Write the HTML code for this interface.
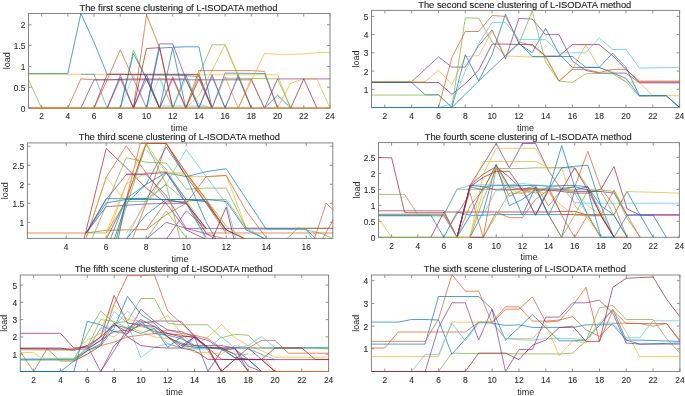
<!DOCTYPE html><html><head><meta charset="utf-8"><style>html,body{margin:0;padding:0;background:#fff;overflow:hidden}svg{display:block}text{font-family:"Liberation Sans",Arial,sans-serif;fill:#2a2a2a}</style></head><body>
<svg width="685" height="396" viewBox="0 0 685 396">
<rect width="685" height="396" fill="#fff"/>
<rect x="28.5" y="13.5" width="301.5" height="94.6" fill="none" stroke="#858585" stroke-width="1"/>
<line x1="41.61" y1="108.1" x2="41.61" y2="105.1" stroke="#858585" stroke-width="0.9"/>
<line x1="41.61" y1="13.5" x2="41.61" y2="16.5" stroke="#858585" stroke-width="0.9"/>
<text x="41.61" y="119.30" font-size="8.4" stroke="#2a2a2a" stroke-width="0.08" text-anchor="middle">2</text>
<line x1="67.83" y1="108.1" x2="67.83" y2="105.1" stroke="#858585" stroke-width="0.9"/>
<line x1="67.83" y1="13.5" x2="67.83" y2="16.5" stroke="#858585" stroke-width="0.9"/>
<text x="67.83" y="119.30" font-size="8.4" stroke="#2a2a2a" stroke-width="0.08" text-anchor="middle">4</text>
<line x1="94.04" y1="108.1" x2="94.04" y2="105.1" stroke="#858585" stroke-width="0.9"/>
<line x1="94.04" y1="13.5" x2="94.04" y2="16.5" stroke="#858585" stroke-width="0.9"/>
<text x="94.04" y="119.30" font-size="8.4" stroke="#2a2a2a" stroke-width="0.08" text-anchor="middle">6</text>
<line x1="120.26" y1="108.1" x2="120.26" y2="105.1" stroke="#858585" stroke-width="0.9"/>
<line x1="120.26" y1="13.5" x2="120.26" y2="16.5" stroke="#858585" stroke-width="0.9"/>
<text x="120.26" y="119.30" font-size="8.4" stroke="#2a2a2a" stroke-width="0.08" text-anchor="middle">8</text>
<line x1="146.48" y1="108.1" x2="146.48" y2="105.1" stroke="#858585" stroke-width="0.9"/>
<line x1="146.48" y1="13.5" x2="146.48" y2="16.5" stroke="#858585" stroke-width="0.9"/>
<text x="146.48" y="119.30" font-size="8.4" stroke="#2a2a2a" stroke-width="0.08" text-anchor="middle">10</text>
<line x1="172.70" y1="108.1" x2="172.70" y2="105.1" stroke="#858585" stroke-width="0.9"/>
<line x1="172.70" y1="13.5" x2="172.70" y2="16.5" stroke="#858585" stroke-width="0.9"/>
<text x="172.70" y="119.30" font-size="8.4" stroke="#2a2a2a" stroke-width="0.08" text-anchor="middle">12</text>
<line x1="198.91" y1="108.1" x2="198.91" y2="105.1" stroke="#858585" stroke-width="0.9"/>
<line x1="198.91" y1="13.5" x2="198.91" y2="16.5" stroke="#858585" stroke-width="0.9"/>
<text x="198.91" y="119.30" font-size="8.4" stroke="#2a2a2a" stroke-width="0.08" text-anchor="middle">14</text>
<line x1="225.13" y1="108.1" x2="225.13" y2="105.1" stroke="#858585" stroke-width="0.9"/>
<line x1="225.13" y1="13.5" x2="225.13" y2="16.5" stroke="#858585" stroke-width="0.9"/>
<text x="225.13" y="119.30" font-size="8.4" stroke="#2a2a2a" stroke-width="0.08" text-anchor="middle">16</text>
<line x1="251.35" y1="108.1" x2="251.35" y2="105.1" stroke="#858585" stroke-width="0.9"/>
<line x1="251.35" y1="13.5" x2="251.35" y2="16.5" stroke="#858585" stroke-width="0.9"/>
<text x="251.35" y="119.30" font-size="8.4" stroke="#2a2a2a" stroke-width="0.08" text-anchor="middle">18</text>
<line x1="277.57" y1="108.1" x2="277.57" y2="105.1" stroke="#858585" stroke-width="0.9"/>
<line x1="277.57" y1="13.5" x2="277.57" y2="16.5" stroke="#858585" stroke-width="0.9"/>
<text x="277.57" y="119.30" font-size="8.4" stroke="#2a2a2a" stroke-width="0.08" text-anchor="middle">20</text>
<line x1="303.78" y1="108.1" x2="303.78" y2="105.1" stroke="#858585" stroke-width="0.9"/>
<line x1="303.78" y1="13.5" x2="303.78" y2="16.5" stroke="#858585" stroke-width="0.9"/>
<text x="303.78" y="119.30" font-size="8.4" stroke="#2a2a2a" stroke-width="0.08" text-anchor="middle">22</text>
<line x1="330.00" y1="108.1" x2="330.00" y2="105.1" stroke="#858585" stroke-width="0.9"/>
<line x1="330.00" y1="13.5" x2="330.00" y2="16.5" stroke="#858585" stroke-width="0.9"/>
<text x="330.00" y="119.30" font-size="8.4" stroke="#2a2a2a" stroke-width="0.08" text-anchor="middle">24</text>
<line x1="28.5" y1="108.10" x2="31.5" y2="108.10" stroke="#858585" stroke-width="0.9"/>
<line x1="330" y1="108.10" x2="327.0" y2="108.10" stroke="#858585" stroke-width="0.9"/>
<text x="25.30" y="111.60" font-size="8.4" stroke="#2a2a2a" stroke-width="0.08" text-anchor="end">0</text>
<line x1="28.5" y1="87.26" x2="31.5" y2="87.26" stroke="#858585" stroke-width="0.9"/>
<line x1="330" y1="87.26" x2="327.0" y2="87.26" stroke="#858585" stroke-width="0.9"/>
<text x="25.30" y="90.76" font-size="8.4" stroke="#2a2a2a" stroke-width="0.08" text-anchor="end">0.5</text>
<line x1="28.5" y1="66.43" x2="31.5" y2="66.43" stroke="#858585" stroke-width="0.9"/>
<line x1="330" y1="66.43" x2="327.0" y2="66.43" stroke="#858585" stroke-width="0.9"/>
<text x="25.30" y="69.93" font-size="8.4" stroke="#2a2a2a" stroke-width="0.08" text-anchor="end">1</text>
<line x1="28.5" y1="45.59" x2="31.5" y2="45.59" stroke="#858585" stroke-width="0.9"/>
<line x1="330" y1="45.59" x2="327.0" y2="45.59" stroke="#858585" stroke-width="0.9"/>
<text x="25.30" y="49.09" font-size="8.4" stroke="#2a2a2a" stroke-width="0.08" text-anchor="end">1.5</text>
<line x1="28.5" y1="24.75" x2="31.5" y2="24.75" stroke="#858585" stroke-width="0.9"/>
<line x1="330" y1="24.75" x2="327.0" y2="24.75" stroke="#858585" stroke-width="0.9"/>
<text x="25.30" y="28.25" font-size="8.4" stroke="#2a2a2a" stroke-width="0.08" text-anchor="end">2</text>
<svg x="27.9" y="12.9" width="302.7" height="95.8" overflow="hidden" viewBox="27.9 12.9 302.7 95.8">
<polyline points="28.5,73.5 67.8,73.5 80.9,13.5 94.0,42.3 107.2,74.3 120.3,74.3 133.4,74.8 146.5,74.8 159.6,75.2 172.7,75.2 185.8,75.6 198.9,76.4 212.0,108.1 225.1,73.1 264.5,73.5 277.6,108.1" fill="none" stroke="#0072BD" stroke-width="0.8" stroke-opacity="0.85"/>
<polyline points="28.5,74.3 185.8,74.3 198.9,74.8 277.6,74.8 290.7,108.1" fill="none" stroke="#EDB120" stroke-width="0.8" stroke-opacity="0.85"/>
<polyline points="28.5,79.8 41.6,108.1 120.3,108.1 133.4,50.2 146.5,78.9 159.6,108.1" fill="none" stroke="#77AC30" stroke-width="0.8" stroke-opacity="0.85"/>
<polyline points="28.5,108.1 67.8,108.1 80.9,78.9 94.0,79.8 107.2,79.8 120.3,79.3 133.4,78.9 146.5,78.9 159.6,78.9 172.7,78.9 185.8,78.9 198.9,108.1" fill="none" stroke="#D95319" stroke-width="0.8" stroke-opacity="0.85"/>
<polyline points="80.9,108.1 94.0,79.8 251.3,79.8 264.5,108.1" fill="none" stroke="#7E2F8E" stroke-width="0.8" stroke-opacity="0.85"/>
<polyline points="80.9,74.3 94.0,74.3 107.2,108.1 120.3,74.8 133.4,108.1 146.5,74.8 159.6,108.1" fill="none" stroke="#0072BD" stroke-width="0.8" stroke-opacity="0.6"/>
<polyline points="94.0,108.1 107.2,74.3 198.9,74.3 212.0,108.1" fill="none" stroke="#A2142F" stroke-width="0.8" stroke-opacity="0.85"/>
<polyline points="94.0,108.1 107.2,79.8 120.3,49.8 133.4,78.9 146.5,108.1" fill="none" stroke="#D95319" stroke-width="0.8" stroke-opacity="0.85"/>
<polyline points="120.3,108.1 133.4,53.5 146.5,78.9 159.6,108.1" fill="none" stroke="#0072BD" stroke-width="0.8" stroke-opacity="0.85"/>
<polyline points="133.4,108.1 146.5,14.8 159.6,47.7 172.7,108.1" fill="none" stroke="#D95319" stroke-width="0.8" stroke-opacity="0.85"/>
<polyline points="133.4,108.1 146.5,48.5 159.6,47.7 172.7,108.1" fill="none" stroke="#A2142F" stroke-width="0.8" stroke-opacity="0.85"/>
<polyline points="146.5,108.1 159.6,43.9 172.7,43.9 185.8,78.9 198.9,108.1" fill="none" stroke="#7E2F8E" stroke-width="0.8" stroke-opacity="0.85"/>
<polyline points="146.5,108.1 159.6,48.1 172.7,47.3 185.8,46.8 198.9,46.8 212.0,108.1" fill="none" stroke="#0072BD" stroke-width="0.8" stroke-opacity="0.85"/>
<polyline points="159.6,108.1 172.7,48.1 185.8,108.1" fill="none" stroke="#0072BD" stroke-width="0.8" stroke-opacity="0.85"/>
<polyline points="185.8,108.1 198.9,74.8 212.0,44.8 225.1,44.8 238.2,76.4 251.3,108.1" fill="none" stroke="#77AC30" stroke-width="0.8" stroke-opacity="0.85"/>
<polyline points="185.8,108.1 198.9,95.6 212.0,70.6 225.1,44.8 238.2,74.8 251.3,108.1" fill="none" stroke="#EDB120" stroke-width="0.8" stroke-opacity="0.85"/>
<polyline points="185.8,108.1 198.9,70.6 251.3,70.6 264.5,71.4 277.6,108.1" fill="none" stroke="#D95319" stroke-width="0.8" stroke-opacity="0.85"/>
<polyline points="238.2,108.1 251.3,81.0 264.5,53.5 277.6,54.3 290.7,54.3 303.8,53.9 316.9,52.7 330.0,52.3" fill="none" stroke="#EDB120" stroke-width="0.8" stroke-opacity="0.85"/>
<polyline points="225.1,78.1 277.6,78.9 290.7,108.1" fill="none" stroke="#77AC30" stroke-width="0.8" stroke-opacity="0.85"/>
<polyline points="264.5,108.1 277.6,78.9 330.0,78.9" fill="none" stroke="#7E2F8E" stroke-width="0.8" stroke-opacity="0.85"/>
<polyline points="264.5,108.1 277.6,95.2 290.7,108.1" fill="none" stroke="#0072BD" stroke-width="0.8" stroke-opacity="0.85"/>
<polyline points="277.6,108.1 290.7,83.1 303.8,78.9 316.9,78.9 330.0,108.1" fill="none" stroke="#EDB120" stroke-width="0.8" stroke-opacity="0.85"/>
<polyline points="290.7,108.1 303.8,78.9 316.9,108.1" fill="none" stroke="#A2142F" stroke-width="0.8" stroke-opacity="0.85"/>
<polyline points="159.6,106.0 198.9,106.0 212.0,108.1" fill="none" stroke="#4DBEEE" stroke-width="0.8" stroke-opacity="0.85"/>
<polyline points="107.2,108.1 120.3,78.9 133.4,108.1 146.5,74.8 159.6,108.1 172.7,76.8 185.8,108.1" fill="none" stroke="#7E2F8E" stroke-width="0.8" stroke-opacity="0.6"/>
<polyline points="107.2,108.1 120.3,76.8 133.4,108.1 146.5,78.9 159.6,108.1 172.7,78.9 185.8,108.1 198.9,78.9 212.0,108.1" fill="none" stroke="#A2142F" stroke-width="0.8" stroke-opacity="0.6"/>
<polyline points="120.3,108.1 133.4,74.8 146.5,108.1 159.6,76.8 172.7,108.1 185.8,74.8 198.9,108.1 212.0,74.8 225.1,108.1" fill="none" stroke="#4DBEEE" stroke-width="0.8" stroke-opacity="0.6"/>
<polyline points="172.7,108.1 185.8,74.8 198.9,108.1 212.0,76.8 225.1,108.1 238.2,74.8 251.3,108.1" fill="none" stroke="#0072BD" stroke-width="0.8" stroke-opacity="0.6"/>
<polyline points="172.7,76.8 185.8,108.1 198.9,78.9 212.0,108.1 225.1,76.8 238.2,108.1 251.3,78.9 264.5,108.1" fill="none" stroke="#D95319" stroke-width="0.8" stroke-opacity="0.6"/>
<polyline points="198.9,108.1 212.0,74.8 225.1,108.1 238.2,76.8 251.3,108.1" fill="none" stroke="#7E2F8E" stroke-width="0.8" stroke-opacity="0.6"/>
<polyline points="159.6,78.9 172.7,108.1 185.8,78.9 198.9,103.9 212.0,108.1" fill="none" stroke="#77AC30" stroke-width="0.8" stroke-opacity="0.6"/>
<polyline points="28.5,108.1 330.0,108.1" fill="none" stroke="#EDB120" stroke-width="0.8" stroke-opacity="0.85"/>
<polyline points="28.5,108.1 330.0,108.1" fill="none" stroke="#D95319" stroke-width="0.8" stroke-opacity="0.85"/>
</svg>
<text x="179.25" y="131.20" font-size="9" text-anchor="middle">time</text>
<text transform="translate(9.60,60.80) rotate(-90)" font-size="9" text-anchor="middle">load</text>
<text x="178.45" y="10.60" font-size="9.35" text-anchor="middle" fill="#000" stroke="#000" stroke-width="0.12">The first scene clustering of L-ISODATA method</text>
<rect x="371.5" y="10.4" width="308.1" height="97.1" fill="none" stroke="#858585" stroke-width="1"/>
<line x1="384.90" y1="107.5" x2="384.90" y2="104.5" stroke="#858585" stroke-width="0.9"/>
<line x1="384.90" y1="10.4" x2="384.90" y2="13.4" stroke="#858585" stroke-width="0.9"/>
<text x="384.90" y="118.70" font-size="8.4" stroke="#2a2a2a" stroke-width="0.08" text-anchor="middle">2</text>
<line x1="411.69" y1="107.5" x2="411.69" y2="104.5" stroke="#858585" stroke-width="0.9"/>
<line x1="411.69" y1="10.4" x2="411.69" y2="13.4" stroke="#858585" stroke-width="0.9"/>
<text x="411.69" y="118.70" font-size="8.4" stroke="#2a2a2a" stroke-width="0.08" text-anchor="middle">4</text>
<line x1="438.48" y1="107.5" x2="438.48" y2="104.5" stroke="#858585" stroke-width="0.9"/>
<line x1="438.48" y1="10.4" x2="438.48" y2="13.4" stroke="#858585" stroke-width="0.9"/>
<text x="438.48" y="118.70" font-size="8.4" stroke="#2a2a2a" stroke-width="0.08" text-anchor="middle">6</text>
<line x1="465.27" y1="107.5" x2="465.27" y2="104.5" stroke="#858585" stroke-width="0.9"/>
<line x1="465.27" y1="10.4" x2="465.27" y2="13.4" stroke="#858585" stroke-width="0.9"/>
<text x="465.27" y="118.70" font-size="8.4" stroke="#2a2a2a" stroke-width="0.08" text-anchor="middle">8</text>
<line x1="492.06" y1="107.5" x2="492.06" y2="104.5" stroke="#858585" stroke-width="0.9"/>
<line x1="492.06" y1="10.4" x2="492.06" y2="13.4" stroke="#858585" stroke-width="0.9"/>
<text x="492.06" y="118.70" font-size="8.4" stroke="#2a2a2a" stroke-width="0.08" text-anchor="middle">10</text>
<line x1="518.85" y1="107.5" x2="518.85" y2="104.5" stroke="#858585" stroke-width="0.9"/>
<line x1="518.85" y1="10.4" x2="518.85" y2="13.4" stroke="#858585" stroke-width="0.9"/>
<text x="518.85" y="118.70" font-size="8.4" stroke="#2a2a2a" stroke-width="0.08" text-anchor="middle">12</text>
<line x1="545.64" y1="107.5" x2="545.64" y2="104.5" stroke="#858585" stroke-width="0.9"/>
<line x1="545.64" y1="10.4" x2="545.64" y2="13.4" stroke="#858585" stroke-width="0.9"/>
<text x="545.64" y="118.70" font-size="8.4" stroke="#2a2a2a" stroke-width="0.08" text-anchor="middle">14</text>
<line x1="572.43" y1="107.5" x2="572.43" y2="104.5" stroke="#858585" stroke-width="0.9"/>
<line x1="572.43" y1="10.4" x2="572.43" y2="13.4" stroke="#858585" stroke-width="0.9"/>
<text x="572.43" y="118.70" font-size="8.4" stroke="#2a2a2a" stroke-width="0.08" text-anchor="middle">16</text>
<line x1="599.23" y1="107.5" x2="599.23" y2="104.5" stroke="#858585" stroke-width="0.9"/>
<line x1="599.23" y1="10.4" x2="599.23" y2="13.4" stroke="#858585" stroke-width="0.9"/>
<text x="599.23" y="118.70" font-size="8.4" stroke="#2a2a2a" stroke-width="0.08" text-anchor="middle">18</text>
<line x1="626.02" y1="107.5" x2="626.02" y2="104.5" stroke="#858585" stroke-width="0.9"/>
<line x1="626.02" y1="10.4" x2="626.02" y2="13.4" stroke="#858585" stroke-width="0.9"/>
<text x="626.02" y="118.70" font-size="8.4" stroke="#2a2a2a" stroke-width="0.08" text-anchor="middle">20</text>
<line x1="652.81" y1="107.5" x2="652.81" y2="104.5" stroke="#858585" stroke-width="0.9"/>
<line x1="652.81" y1="10.4" x2="652.81" y2="13.4" stroke="#858585" stroke-width="0.9"/>
<text x="652.81" y="118.70" font-size="8.4" stroke="#2a2a2a" stroke-width="0.08" text-anchor="middle">22</text>
<line x1="679.60" y1="107.5" x2="679.60" y2="104.5" stroke="#858585" stroke-width="0.9"/>
<line x1="679.60" y1="10.4" x2="679.60" y2="13.4" stroke="#858585" stroke-width="0.9"/>
<text x="679.60" y="118.70" font-size="8.4" stroke="#2a2a2a" stroke-width="0.08" text-anchor="middle">24</text>
<line x1="371.5" y1="89.28" x2="374.5" y2="89.28" stroke="#858585" stroke-width="0.9"/>
<line x1="679.6" y1="89.28" x2="676.6" y2="89.28" stroke="#858585" stroke-width="0.9"/>
<text x="368.30" y="92.78" font-size="8.4" stroke="#2a2a2a" stroke-width="0.08" text-anchor="end">1</text>
<line x1="371.5" y1="71.06" x2="374.5" y2="71.06" stroke="#858585" stroke-width="0.9"/>
<line x1="679.6" y1="71.06" x2="676.6" y2="71.06" stroke="#858585" stroke-width="0.9"/>
<text x="368.30" y="74.56" font-size="8.4" stroke="#2a2a2a" stroke-width="0.08" text-anchor="end">2</text>
<line x1="371.5" y1="52.85" x2="374.5" y2="52.85" stroke="#858585" stroke-width="0.9"/>
<line x1="679.6" y1="52.85" x2="676.6" y2="52.85" stroke="#858585" stroke-width="0.9"/>
<text x="368.30" y="56.35" font-size="8.4" stroke="#2a2a2a" stroke-width="0.08" text-anchor="end">3</text>
<line x1="371.5" y1="34.63" x2="374.5" y2="34.63" stroke="#858585" stroke-width="0.9"/>
<line x1="679.6" y1="34.63" x2="676.6" y2="34.63" stroke="#858585" stroke-width="0.9"/>
<text x="368.30" y="38.13" font-size="8.4" stroke="#2a2a2a" stroke-width="0.08" text-anchor="end">4</text>
<line x1="371.5" y1="16.41" x2="374.5" y2="16.41" stroke="#858585" stroke-width="0.9"/>
<line x1="679.6" y1="16.41" x2="676.6" y2="16.41" stroke="#858585" stroke-width="0.9"/>
<text x="368.30" y="19.91" font-size="8.4" stroke="#2a2a2a" stroke-width="0.08" text-anchor="end">5</text>
<svg x="370.9" y="9.8" width="309.3" height="98.3" overflow="hidden" viewBox="370.9 9.8 309.3 98.3">
<polyline points="371.5,81.6 411.7,81.6 438.5,56.9 451.9,67.1 465.3,67.1 478.7,45.6 492.1,30.1 505.5,59.0 518.9,18.4 532.2,19.1 545.6,34.6 559.0,34.6 572.4,61.0 585.8,70.5 599.2,73.1 612.6,73.1 626.0,73.1 639.4,82.9 679.6,82.9" fill="none" stroke="#7E2F8E" stroke-width="0.8" stroke-opacity="0.85"/>
<polyline points="371.5,81.6 425.1,81.6 438.5,70.2 451.9,84.7 465.3,56.5 478.7,55.6 492.1,31.0 505.5,55.9 518.9,56.5 532.2,57.0 545.6,57.4 559.0,81.1 572.4,69.2 585.8,44.8 599.2,68.0 612.6,71.1 626.0,82.0 639.4,82.0 652.8,95.7 679.6,95.7" fill="none" stroke="#EDB120" stroke-width="0.8" stroke-opacity="0.85"/>
<polyline points="371.5,82.5 438.5,82.5 451.9,94.4 465.3,83.8 478.7,70.0 492.1,44.1 505.5,44.1 518.9,44.5 532.2,44.5 545.6,56.1 559.0,56.1 572.4,44.6 585.8,44.6 599.2,44.6 612.6,55.6 626.0,69.4 639.4,82.0 679.6,82.0" fill="none" stroke="#A2142F" stroke-width="0.8" stroke-opacity="0.85"/>
<polyline points="371.5,82.5 411.7,82.5 425.1,94.7 438.5,94.7 451.9,107.5 465.3,54.7 478.7,80.7 492.1,54.7 505.5,14.0 518.9,43.7 532.2,52.8 545.6,28.3 559.0,53.8 572.4,67.4 585.8,67.4 599.2,67.4 612.6,53.2 626.0,67.4 639.4,95.7 666.2,95.7 679.6,107.5" fill="none" stroke="#0072BD" stroke-width="0.8" stroke-opacity="0.85"/>
<polyline points="371.5,95.1 438.5,95.1 451.9,107.5 465.3,17.7 478.7,18.2 492.1,41.9 505.5,56.3 518.9,43.7 532.2,11.1 545.6,62.0 559.0,81.1 572.4,82.4 585.8,73.8 599.2,73.4 612.6,73.8 626.0,82.0 639.4,96.2 666.2,95.7 679.6,107.5" fill="none" stroke="#77AC30" stroke-width="0.8" stroke-opacity="0.85"/>
<polyline points="371.5,107.5 438.5,107.5 451.9,57.4 465.3,31.5 478.7,31.5 492.1,15.5 505.5,16.4 518.9,41.9 532.2,45.6 545.6,56.1 559.0,81.1 572.4,69.4 585.8,69.4 599.2,72.5 612.6,69.4 626.0,69.4 639.4,81.1 679.6,81.1" fill="none" stroke="#D95319" stroke-width="0.8" stroke-opacity="0.85"/>
<polyline points="371.5,107.5 438.5,107.5 451.9,103.9 465.3,71.1 478.7,43.7 492.1,22.4 505.5,22.4 518.9,39.4 532.2,39.4 545.6,39.4 559.0,52.8 572.4,52.8 585.8,52.8 599.2,37.9 612.6,49.4 626.0,49.4 639.4,68.1 679.6,67.4" fill="none" stroke="#4DBEEE" stroke-width="0.8" stroke-opacity="0.85"/>
<polyline points="371.5,107.5 451.9,107.5 478.7,81.1 505.5,55.6 518.9,42.8 532.2,56.5 545.6,56.5 559.0,56.5 572.4,56.5 585.8,67.4 599.2,67.4 612.6,72.9 626.0,78.4 639.4,95.7 666.2,95.7 679.6,107.5" fill="none" stroke="#0072BD" stroke-width="0.8" stroke-opacity="0.85"/>
</svg>
<text x="525.55" y="130.60" font-size="9" text-anchor="middle">time</text>
<text transform="translate(358.80,58.95) rotate(-90)" font-size="9" text-anchor="middle">load</text>
<text x="524.75" y="7.50" font-size="9.35" text-anchor="middle" fill="#000" stroke="#000" stroke-width="0.12">The second scene clustering of L-ISODATA method</text>
<rect x="27.4" y="142.9" width="305.40000000000003" height="95.5" fill="none" stroke="#858585" stroke-width="1"/>
<line x1="66.20" y1="238.4" x2="66.20" y2="235.4" stroke="#858585" stroke-width="0.9"/>
<line x1="66.20" y1="142.9" x2="66.20" y2="145.9" stroke="#858585" stroke-width="0.9"/>
<text x="66.20" y="249.60" font-size="8.4" stroke="#2a2a2a" stroke-width="0.08" text-anchor="middle">4</text>
<line x1="106.20" y1="238.4" x2="106.20" y2="235.4" stroke="#858585" stroke-width="0.9"/>
<line x1="106.20" y1="142.9" x2="106.20" y2="145.9" stroke="#858585" stroke-width="0.9"/>
<text x="106.20" y="249.60" font-size="8.4" stroke="#2a2a2a" stroke-width="0.08" text-anchor="middle">6</text>
<line x1="146.20" y1="238.4" x2="146.20" y2="235.4" stroke="#858585" stroke-width="0.9"/>
<line x1="146.20" y1="142.9" x2="146.20" y2="145.9" stroke="#858585" stroke-width="0.9"/>
<text x="146.20" y="249.60" font-size="8.4" stroke="#2a2a2a" stroke-width="0.08" text-anchor="middle">8</text>
<line x1="186.20" y1="238.4" x2="186.20" y2="235.4" stroke="#858585" stroke-width="0.9"/>
<line x1="186.20" y1="142.9" x2="186.20" y2="145.9" stroke="#858585" stroke-width="0.9"/>
<text x="186.20" y="249.60" font-size="8.4" stroke="#2a2a2a" stroke-width="0.08" text-anchor="middle">10</text>
<line x1="226.20" y1="238.4" x2="226.20" y2="235.4" stroke="#858585" stroke-width="0.9"/>
<line x1="226.20" y1="142.9" x2="226.20" y2="145.9" stroke="#858585" stroke-width="0.9"/>
<text x="226.20" y="249.60" font-size="8.4" stroke="#2a2a2a" stroke-width="0.08" text-anchor="middle">12</text>
<line x1="266.20" y1="238.4" x2="266.20" y2="235.4" stroke="#858585" stroke-width="0.9"/>
<line x1="266.20" y1="142.9" x2="266.20" y2="145.9" stroke="#858585" stroke-width="0.9"/>
<text x="266.20" y="249.60" font-size="8.4" stroke="#2a2a2a" stroke-width="0.08" text-anchor="middle">14</text>
<line x1="306.20" y1="238.4" x2="306.20" y2="235.4" stroke="#858585" stroke-width="0.9"/>
<line x1="306.20" y1="142.9" x2="306.20" y2="145.9" stroke="#858585" stroke-width="0.9"/>
<text x="306.20" y="249.60" font-size="8.4" stroke="#2a2a2a" stroke-width="0.08" text-anchor="middle">16</text>
<line x1="27.4" y1="222.31" x2="30.4" y2="222.31" stroke="#858585" stroke-width="0.9"/>
<line x1="332.8" y1="222.31" x2="329.8" y2="222.31" stroke="#858585" stroke-width="0.9"/>
<text x="24.20" y="225.81" font-size="8.4" stroke="#2a2a2a" stroke-width="0.08" text-anchor="end">1</text>
<line x1="27.4" y1="203.28" x2="30.4" y2="203.28" stroke="#858585" stroke-width="0.9"/>
<line x1="332.8" y1="203.28" x2="329.8" y2="203.28" stroke="#858585" stroke-width="0.9"/>
<text x="24.20" y="206.78" font-size="8.4" stroke="#2a2a2a" stroke-width="0.08" text-anchor="end">1.5</text>
<line x1="27.4" y1="184.26" x2="30.4" y2="184.26" stroke="#858585" stroke-width="0.9"/>
<line x1="332.8" y1="184.26" x2="329.8" y2="184.26" stroke="#858585" stroke-width="0.9"/>
<text x="24.20" y="187.76" font-size="8.4" stroke="#2a2a2a" stroke-width="0.08" text-anchor="end">2</text>
<line x1="27.4" y1="165.23" x2="30.4" y2="165.23" stroke="#858585" stroke-width="0.9"/>
<line x1="332.8" y1="165.23" x2="329.8" y2="165.23" stroke="#858585" stroke-width="0.9"/>
<text x="24.20" y="168.73" font-size="8.4" stroke="#2a2a2a" stroke-width="0.08" text-anchor="end">2.5</text>
<line x1="27.4" y1="146.21" x2="30.4" y2="146.21" stroke="#858585" stroke-width="0.9"/>
<line x1="332.8" y1="146.21" x2="329.8" y2="146.21" stroke="#858585" stroke-width="0.9"/>
<text x="24.20" y="149.71" font-size="8.4" stroke="#2a2a2a" stroke-width="0.08" text-anchor="end">3</text>
<svg x="26.799999999999997" y="142.3" width="306.6" height="96.7" overflow="hidden" viewBox="26.799999999999997 142.3 306.6 96.7">
<polyline points="26.2,233.0 86.2,233.0 106.2,230.3 146.2,229.5 166.2,201.4 186.2,201.4 206.2,233.0 334.2,233.0" fill="none" stroke="#D95319" stroke-width="0.8" stroke-opacity="0.85"/>
<polyline points="84.2,238.4 106.2,148.5 126.2,167.5 146.2,188.1 166.2,203.3 186.2,229.9 206.2,239.4" fill="none" stroke="#A2142F" stroke-width="0.8" stroke-opacity="0.85"/>
<polyline points="86.2,237.5 106.2,177.4 126.2,145.8 146.2,172.8 166.2,199.5 186.2,203.3 206.2,233.7 226.2,239.4" fill="none" stroke="#D95319" stroke-width="0.8" stroke-opacity="0.85"/>
<polyline points="86.2,237.5 106.2,177.4 126.2,201.8 146.2,143.5 166.2,143.5 186.2,176.6 206.2,176.6 226.2,175.5 246.2,228.0 334.2,228.0" fill="none" stroke="#EDB120" stroke-width="0.8" stroke-opacity="0.85"/>
<polyline points="92.2,238.4 106.2,205.2 126.2,157.6 146.2,162.2 166.2,163.0 186.2,189.2 206.2,188.1 226.2,188.1 246.2,228.0 266.2,239.4" fill="none" stroke="#77AC30" stroke-width="0.8" stroke-opacity="0.85"/>
<polyline points="86.2,233.0 106.2,199.5 126.2,174.7 146.2,174.7 166.2,195.7 186.2,228.4 334.2,228.4" fill="none" stroke="#7E2F8E" stroke-width="0.8" stroke-opacity="0.85"/>
<polyline points="86.2,233.0 106.2,198.7 126.2,198.7 146.2,198.7 166.2,172.8 186.2,176.6 206.2,171.7 226.2,168.7 266.2,229.2 306.2,229.2 316.2,239.4" fill="none" stroke="#0072BD" stroke-width="0.8" stroke-opacity="0.85"/>
<polyline points="86.2,233.0 106.2,202.9 126.2,199.5 146.2,199.5 166.2,199.5 186.2,199.5 206.2,201.4 226.2,229.9 246.2,239.4" fill="none" stroke="#0072BD" stroke-width="0.8" stroke-opacity="0.85"/>
<polyline points="86.2,233.0 106.2,206.7 126.2,205.2 146.2,204.0 166.2,203.3 186.2,203.3 206.2,228.4" fill="none" stroke="#7E2F8E" stroke-width="0.8" stroke-opacity="0.85"/>
<polyline points="106.2,239.4 126.2,199.5 146.2,143.5 166.2,143.5 186.2,176.6 206.2,203.3 226.2,229.9 246.2,239.4" fill="none" stroke="#A2142F" stroke-width="0.8" stroke-opacity="0.85"/>
<polyline points="116.2,239.4 140.2,143.5 146.2,143.5 166.2,143.5 186.2,172.8 206.2,203.3 226.2,233.7" fill="none" stroke="#D95319" stroke-width="0.8" stroke-opacity="0.85"/>
<polyline points="126.2,239.4 146.2,199.5 166.2,184.3 186.2,149.6 206.2,176.6 226.2,203.3 236.2,239.4" fill="none" stroke="#4DBEEE" stroke-width="0.8" stroke-opacity="0.85"/>
<polyline points="110.2,239.4 126.2,198.7 146.2,198.7 166.2,199.5 186.2,203.3 206.2,237.5" fill="none" stroke="#0072BD" stroke-width="0.8" stroke-opacity="0.85"/>
<polyline points="114.2,239.4 126.2,203.3 146.2,184.3 166.2,147.0 186.2,176.6 206.2,222.3 216.2,239.4" fill="none" stroke="#0072BD" stroke-width="0.8" stroke-opacity="0.85"/>
<polyline points="86.2,233.0 106.2,233.0 126.2,201.4 146.2,201.4 166.2,184.3 186.2,201.4 206.2,199.5 226.2,199.5 246.2,228.0" fill="none" stroke="#77AC30" stroke-width="0.8" stroke-opacity="0.85"/>
<polyline points="126.2,233.7 146.2,203.3 166.2,172.8 186.2,172.8 206.2,199.5 226.2,226.1 246.2,239.4" fill="none" stroke="#EDB120" stroke-width="0.8" stroke-opacity="0.85"/>
<polyline points="146.2,239.4 166.2,222.3 186.2,228.4 206.2,233.7 216.2,239.4" fill="none" stroke="#7E2F8E" stroke-width="0.8" stroke-opacity="0.85"/>
<polyline points="314.2,239.4 326.2,203.3 334.2,210.9" fill="none" stroke="#D95319" stroke-width="0.8" stroke-opacity="0.85"/>
<polyline points="322.2,239.4 334.2,218.5" fill="none" stroke="#D95319" stroke-width="0.8" stroke-opacity="0.85"/>
<polyline points="246.2,229.9 306.2,229.2 312.2,239.4" fill="none" stroke="#4DBEEE" stroke-width="0.8" stroke-opacity="0.85"/>
<polyline points="286.2,239.4 298.2,228.0 322.2,233.7 334.2,239.4" fill="none" stroke="#77AC30" stroke-width="0.8" stroke-opacity="0.85"/>
<polyline points="212.2,239.4 226.2,207.1 234.2,239.4" fill="none" stroke="#A2142F" stroke-width="0.8" stroke-opacity="0.85"/>
<polyline points="106.2,239.4 126.2,184.3 146.2,172.8 166.2,171.3 186.2,199.5 206.2,229.9" fill="none" stroke="#EDB120" stroke-width="0.8" stroke-opacity="0.85"/>
<polyline points="126.2,239.4 146.2,214.7 166.2,199.5 186.2,199.5 206.2,199.5 226.2,201.4 246.2,229.9 266.2,239.4" fill="none" stroke="#0072BD" stroke-width="0.8" stroke-opacity="0.85"/>
<polyline points="146.2,229.9 166.2,214.7 186.2,203.3 206.2,176.6 226.2,175.5 246.2,210.9 266.2,237.5" fill="none" stroke="#D95319" stroke-width="0.8" stroke-opacity="0.85"/>
<polyline points="146.2,239.4 166.2,210.9 186.2,237.5" fill="none" stroke="#77AC30" stroke-width="0.8" stroke-opacity="0.85"/>
<polyline points="146.2,150.0 166.2,169.0 186.2,203.3 206.2,239.4" fill="none" stroke="#4DBEEE" stroke-width="0.8" stroke-opacity="0.85"/>
<polyline points="166.2,239.4 186.2,210.9 206.2,228.4" fill="none" stroke="#7E2F8E" stroke-width="0.8" stroke-opacity="0.85"/>
<polyline points="116.2,239.4 146.2,143.5 166.2,184.3 180.2,239.4" fill="none" stroke="#77AC30" stroke-width="0.8" stroke-opacity="0.85"/>
<polyline points="106.2,233.0 126.2,184.3 146.2,143.5 166.2,172.8 186.2,174.7 206.2,199.5 226.2,226.1" fill="none" stroke="#EDB120" stroke-width="0.8" stroke-opacity="0.85"/>
<polyline points="118.2,239.4 126.2,198.7 146.2,184.3 166.2,172.5 186.2,199.5 206.2,201.4 226.2,229.9" fill="none" stroke="#0072BD" stroke-width="0.8" stroke-opacity="0.85"/>
<polyline points="132.2,239.4 146.2,203.3 166.2,143.5 186.2,172.8 206.2,199.5 226.2,231.8" fill="none" stroke="#D95319" stroke-width="0.8" stroke-opacity="0.85"/>
<polyline points="126.2,174.0 146.2,174.0 166.2,172.5 186.2,203.3 206.2,228.4" fill="none" stroke="#7E2F8E" stroke-width="0.8" stroke-opacity="0.85"/>
</svg>
<text x="180.10" y="261.50" font-size="9" text-anchor="middle">time</text>
<text transform="translate(8.40,190.65) rotate(-90)" font-size="9" text-anchor="middle">load</text>
<text x="179.30" y="140.00" font-size="9.35" text-anchor="middle" fill="#000" stroke="#000" stroke-width="0.12">The third scene clustering of L-ISODATA method</text>
<rect x="378.5" y="142.6" width="300.9" height="94.70000000000002" fill="none" stroke="#858585" stroke-width="1"/>
<line x1="391.58" y1="237.3" x2="391.58" y2="234.3" stroke="#858585" stroke-width="0.9"/>
<line x1="391.58" y1="142.6" x2="391.58" y2="145.6" stroke="#858585" stroke-width="0.9"/>
<text x="391.58" y="248.50" font-size="8.4" stroke="#2a2a2a" stroke-width="0.08" text-anchor="middle">2</text>
<line x1="417.75" y1="237.3" x2="417.75" y2="234.3" stroke="#858585" stroke-width="0.9"/>
<line x1="417.75" y1="142.6" x2="417.75" y2="145.6" stroke="#858585" stroke-width="0.9"/>
<text x="417.75" y="248.50" font-size="8.4" stroke="#2a2a2a" stroke-width="0.08" text-anchor="middle">4</text>
<line x1="443.91" y1="237.3" x2="443.91" y2="234.3" stroke="#858585" stroke-width="0.9"/>
<line x1="443.91" y1="142.6" x2="443.91" y2="145.6" stroke="#858585" stroke-width="0.9"/>
<text x="443.91" y="248.50" font-size="8.4" stroke="#2a2a2a" stroke-width="0.08" text-anchor="middle">6</text>
<line x1="470.08" y1="237.3" x2="470.08" y2="234.3" stroke="#858585" stroke-width="0.9"/>
<line x1="470.08" y1="142.6" x2="470.08" y2="145.6" stroke="#858585" stroke-width="0.9"/>
<text x="470.08" y="248.50" font-size="8.4" stroke="#2a2a2a" stroke-width="0.08" text-anchor="middle">8</text>
<line x1="496.24" y1="237.3" x2="496.24" y2="234.3" stroke="#858585" stroke-width="0.9"/>
<line x1="496.24" y1="142.6" x2="496.24" y2="145.6" stroke="#858585" stroke-width="0.9"/>
<text x="496.24" y="248.50" font-size="8.4" stroke="#2a2a2a" stroke-width="0.08" text-anchor="middle">10</text>
<line x1="522.41" y1="237.3" x2="522.41" y2="234.3" stroke="#858585" stroke-width="0.9"/>
<line x1="522.41" y1="142.6" x2="522.41" y2="145.6" stroke="#858585" stroke-width="0.9"/>
<text x="522.41" y="248.50" font-size="8.4" stroke="#2a2a2a" stroke-width="0.08" text-anchor="middle">12</text>
<line x1="548.57" y1="237.3" x2="548.57" y2="234.3" stroke="#858585" stroke-width="0.9"/>
<line x1="548.57" y1="142.6" x2="548.57" y2="145.6" stroke="#858585" stroke-width="0.9"/>
<text x="548.57" y="248.50" font-size="8.4" stroke="#2a2a2a" stroke-width="0.08" text-anchor="middle">14</text>
<line x1="574.74" y1="237.3" x2="574.74" y2="234.3" stroke="#858585" stroke-width="0.9"/>
<line x1="574.74" y1="142.6" x2="574.74" y2="145.6" stroke="#858585" stroke-width="0.9"/>
<text x="574.74" y="248.50" font-size="8.4" stroke="#2a2a2a" stroke-width="0.08" text-anchor="middle">16</text>
<line x1="600.90" y1="237.3" x2="600.90" y2="234.3" stroke="#858585" stroke-width="0.9"/>
<line x1="600.90" y1="142.6" x2="600.90" y2="145.6" stroke="#858585" stroke-width="0.9"/>
<text x="600.90" y="248.50" font-size="8.4" stroke="#2a2a2a" stroke-width="0.08" text-anchor="middle">18</text>
<line x1="627.07" y1="237.3" x2="627.07" y2="234.3" stroke="#858585" stroke-width="0.9"/>
<line x1="627.07" y1="142.6" x2="627.07" y2="145.6" stroke="#858585" stroke-width="0.9"/>
<text x="627.07" y="248.50" font-size="8.4" stroke="#2a2a2a" stroke-width="0.08" text-anchor="middle">20</text>
<line x1="653.23" y1="237.3" x2="653.23" y2="234.3" stroke="#858585" stroke-width="0.9"/>
<line x1="653.23" y1="142.6" x2="653.23" y2="145.6" stroke="#858585" stroke-width="0.9"/>
<text x="653.23" y="248.50" font-size="8.4" stroke="#2a2a2a" stroke-width="0.08" text-anchor="middle">22</text>
<line x1="679.40" y1="237.3" x2="679.40" y2="234.3" stroke="#858585" stroke-width="0.9"/>
<line x1="679.40" y1="142.6" x2="679.40" y2="145.6" stroke="#858585" stroke-width="0.9"/>
<text x="679.40" y="248.50" font-size="8.4" stroke="#2a2a2a" stroke-width="0.08" text-anchor="middle">24</text>
<line x1="378.5" y1="237.30" x2="381.5" y2="237.30" stroke="#858585" stroke-width="0.9"/>
<line x1="679.4" y1="237.30" x2="676.4" y2="237.30" stroke="#858585" stroke-width="0.9"/>
<text x="375.30" y="240.80" font-size="8.4" stroke="#2a2a2a" stroke-width="0.08" text-anchor="end">0</text>
<line x1="378.5" y1="221.32" x2="381.5" y2="221.32" stroke="#858585" stroke-width="0.9"/>
<line x1="679.4" y1="221.32" x2="676.4" y2="221.32" stroke="#858585" stroke-width="0.9"/>
<text x="375.30" y="224.82" font-size="8.4" stroke="#2a2a2a" stroke-width="0.08" text-anchor="end">0.5</text>
<line x1="378.5" y1="205.34" x2="381.5" y2="205.34" stroke="#858585" stroke-width="0.9"/>
<line x1="679.4" y1="205.34" x2="676.4" y2="205.34" stroke="#858585" stroke-width="0.9"/>
<text x="375.30" y="208.84" font-size="8.4" stroke="#2a2a2a" stroke-width="0.08" text-anchor="end">1</text>
<line x1="378.5" y1="189.36" x2="381.5" y2="189.36" stroke="#858585" stroke-width="0.9"/>
<line x1="679.4" y1="189.36" x2="676.4" y2="189.36" stroke="#858585" stroke-width="0.9"/>
<text x="375.30" y="192.86" font-size="8.4" stroke="#2a2a2a" stroke-width="0.08" text-anchor="end">1.5</text>
<line x1="378.5" y1="173.38" x2="381.5" y2="173.38" stroke="#858585" stroke-width="0.9"/>
<line x1="679.4" y1="173.38" x2="676.4" y2="173.38" stroke="#858585" stroke-width="0.9"/>
<text x="375.30" y="176.88" font-size="8.4" stroke="#2a2a2a" stroke-width="0.08" text-anchor="end">2</text>
<line x1="378.5" y1="157.40" x2="381.5" y2="157.40" stroke="#858585" stroke-width="0.9"/>
<line x1="679.4" y1="157.40" x2="676.4" y2="157.40" stroke="#858585" stroke-width="0.9"/>
<text x="375.30" y="160.90" font-size="8.4" stroke="#2a2a2a" stroke-width="0.08" text-anchor="end">2.5</text>
<svg x="377.9" y="142.0" width="302.09999999999997" height="95.90000000000002" overflow="hidden" viewBox="377.9 142.0 302.09999999999997 95.90000000000002">
<polyline points="378.5,157.7 391.6,157.7 404.7,212.7 443.9,212.7 457.0,237.3 470.1,185.2 483.2,174.2 496.2,166.6 509.3,177.3 522.4,189.9 535.5,189.9 548.6,189.9 561.7,191.5 574.7,193.1 587.8,193.1 600.9,189.3 614.0,166.6 627.1,208.9 640.2,215.2 679.4,215.2" fill="none" stroke="#A2142F" stroke-width="0.8" stroke-opacity="0.85"/>
<polyline points="378.5,194.4 404.7,194.4 417.7,214.6 443.9,214.6 457.0,189.3 496.2,189.3 509.3,189.3 522.4,189.9 535.5,188.4 548.6,188.4 561.7,189.3 574.7,189.9 587.8,189.9 600.9,191.5 614.0,215.2 627.1,237.3" fill="none" stroke="#77AC30" stroke-width="0.8" stroke-opacity="0.85"/>
<polyline points="378.5,218.4 391.6,237.3" fill="none" stroke="#EDB120" stroke-width="0.8" stroke-opacity="0.85"/>
<polyline points="378.5,210.8 443.9,210.8 457.0,237.3 470.1,185.2 483.2,164.4 496.2,143.5 509.3,167.8 522.4,143.5 535.5,143.5 548.6,171.0 561.7,189.9 574.7,191.5 587.8,191.5 600.9,191.5 614.0,193.1 627.1,215.2 640.2,214.6 679.4,214.6" fill="none" stroke="#7E2F8E" stroke-width="0.8" stroke-opacity="0.85"/>
<polyline points="378.5,215.2 430.8,215.2 443.9,237.3 457.0,212.0 470.1,215.2 483.2,186.8 496.2,185.5 509.3,185.5 522.4,185.5 535.5,185.5 548.6,186.2 561.7,185.5 574.7,185.5 587.8,186.8 600.9,205.7 614.0,237.3" fill="none" stroke="#0072BD" stroke-width="0.8" stroke-opacity="0.85"/>
<polyline points="378.5,215.8 430.8,215.8 443.9,215.8 457.0,237.3 470.1,215.8 483.2,215.2 496.2,214.6 509.3,214.6 522.4,214.6 535.5,214.6 548.6,214.6 561.7,214.6 574.7,214.6 587.8,214.6 600.9,214.6 614.0,214.6 627.1,191.5 640.2,215.2 653.2,215.2 666.3,237.3" fill="none" stroke="#0072BD" stroke-width="0.8" stroke-opacity="0.85"/>
<polyline points="378.5,214.6 443.9,214.6 450.5,224.7 470.1,193.4 483.2,237.3 496.2,167.8 509.3,196.3 522.4,189.9 535.5,185.5 548.6,205.7 561.7,189.9 574.7,186.8 587.8,151.4 600.9,188.0 614.0,205.7 627.1,237.3" fill="none" stroke="#D95319" stroke-width="0.8" stroke-opacity="0.85"/>
<polyline points="430.8,237.3 443.9,212.0 457.0,212.0 470.1,212.0 483.2,212.0 496.2,212.0 509.3,212.0 522.4,212.0 535.5,212.0 548.6,212.0 561.7,211.4 574.7,211.4 587.8,215.2 600.9,237.3" fill="none" stroke="#A2142F" stroke-width="0.8" stroke-opacity="0.85"/>
<polyline points="470.1,237.3 483.2,174.2 496.2,148.3 535.5,148.3 548.6,171.0 561.7,189.9 574.7,191.5 587.8,205.7 600.9,215.2 614.0,215.2 627.1,191.5 679.4,193.1" fill="none" stroke="#EDB120" stroke-width="0.8" stroke-opacity="0.85"/>
<polyline points="457.0,237.3 470.1,189.9 483.2,161.5 535.5,161.5 548.6,167.8 561.7,167.8 574.7,205.7 587.8,218.4 600.9,237.3" fill="none" stroke="#EDB120" stroke-width="0.8" stroke-opacity="0.85"/>
<polyline points="470.1,237.3 483.2,212.0 496.2,164.7 509.3,205.7 522.4,199.4 535.5,189.9 548.6,189.9 561.7,145.7 574.7,186.8 587.8,215.2 600.9,237.3" fill="none" stroke="#0072BD" stroke-width="0.8" stroke-opacity="0.85"/>
<polyline points="470.1,237.3 483.2,199.4 496.2,168.5 509.3,168.5 522.4,168.5 535.5,167.8 548.6,167.8 561.7,167.8 574.7,167.8 587.8,186.8 600.9,212.0 614.0,237.3" fill="none" stroke="#77AC30" stroke-width="0.8" stroke-opacity="0.85"/>
<polyline points="378.5,214.6 443.9,214.6 457.0,189.3 470.1,185.2 483.2,184.9 496.2,184.9 509.3,184.9 522.4,183.6 535.5,184.9 548.6,186.2 561.7,186.8 574.7,202.6 587.8,203.2 679.4,203.2" fill="none" stroke="#4DBEEE" stroke-width="0.8" stroke-opacity="0.85"/>
<polyline points="483.2,237.3 496.2,212.0 509.3,217.7 522.4,217.7 535.5,199.4 548.6,189.9 561.7,214.6 574.7,214.6 587.8,215.8 600.9,215.8 614.0,237.3 627.1,237.3" fill="none" stroke="#D95319" stroke-width="0.8" stroke-opacity="0.85"/>
<polyline points="535.5,215.2 548.6,189.9 561.7,167.8 574.7,166.3 587.8,165.3 600.9,205.7 614.0,215.2 627.1,237.3" fill="none" stroke="#0072BD" stroke-width="0.8" stroke-opacity="0.85"/>
<polyline points="457.0,237.3 470.1,185.2 483.2,186.8 496.2,189.9 509.3,189.9 522.4,188.4 535.5,188.4 548.6,215.2 561.7,237.3 574.7,189.9 587.8,186.8 600.9,215.2 614.0,237.3" fill="none" stroke="#7E2F8E" stroke-width="0.8" stroke-opacity="0.85"/>
<polyline points="483.2,237.3 496.2,215.2 509.3,193.1 522.4,193.1 535.5,186.8 548.6,215.2 561.7,237.3 574.7,215.2 587.8,189.9 600.9,189.9 614.0,191.5 627.1,218.4 640.2,237.3" fill="none" stroke="#77AC30" stroke-width="0.8" stroke-opacity="0.85"/>
<polyline points="457.0,237.3 470.1,205.7 483.2,189.9 496.2,164.4 509.3,186.8 522.4,189.9 535.5,193.1 548.6,186.8 561.7,215.2 574.7,237.3 587.8,215.2 600.9,215.2 614.0,189.9 627.1,215.2 640.2,237.3" fill="none" stroke="#D95319" stroke-width="0.8" stroke-opacity="0.85"/>
<polyline points="457.0,237.3 470.1,215.2 483.2,215.2 496.2,189.9 509.3,186.8 522.4,186.8 535.5,215.2 548.6,186.8 561.7,189.9 574.7,193.1 587.8,215.2 600.9,237.3 614.0,237.3" fill="none" stroke="#4DBEEE" stroke-width="0.8" stroke-opacity="0.85"/>
<polyline points="457.0,237.3 470.1,186.8 483.2,189.9 496.2,165.3 509.3,186.8 522.4,215.2 535.5,186.8 548.6,215.2 561.7,188.4 574.7,186.8 587.8,189.9 600.9,237.3 614.0,237.3 627.1,215.2 640.2,215.2 653.2,237.3" fill="none" stroke="#0072BD" stroke-width="0.8" stroke-opacity="0.85"/>
<polyline points="457.0,237.3 470.1,186.8 483.2,177.3 496.2,171.3 509.3,171.3 522.4,189.9 535.5,215.2 548.6,189.9 561.7,189.9 574.7,167.8 587.8,189.9 600.9,215.2 614.0,237.3" fill="none" stroke="#A2142F" stroke-width="0.8" stroke-opacity="0.85"/>
<polyline points="378.5,237.3 470.1,237.3" fill="none" stroke="#77AC30" stroke-width="0.8" stroke-opacity="0.85"/>
<polyline points="470.1,237.3 483.2,237.3" fill="none" stroke="#A2142F" stroke-width="0.8" stroke-opacity="0.85"/>
<polyline points="378.5,213.9 443.9,213.9 457.0,237.3 470.1,237.3 483.2,189.9 496.2,166.3 509.3,189.9 522.4,193.1 535.5,191.5 548.6,193.1 561.7,205.7 574.7,215.2 587.8,215.2 600.9,237.3" fill="none" stroke="#EDB120" stroke-width="0.8" stroke-opacity="0.85"/>
</svg>
<text x="528.95" y="260.40" font-size="9" text-anchor="middle">time</text>
<text transform="translate(359.50,189.95) rotate(-90)" font-size="9" text-anchor="middle">load</text>
<text x="528.15" y="139.70" font-size="9.35" text-anchor="middle" fill="#000" stroke="#000" stroke-width="0.12">The fourth scene clustering of L-ISODATA method</text>
<rect x="20.3" y="275" width="308.3" height="96.5" fill="none" stroke="#858585" stroke-width="1"/>
<line x1="33.70" y1="371.5" x2="33.70" y2="368.5" stroke="#858585" stroke-width="0.9"/>
<line x1="33.70" y1="275" x2="33.70" y2="278.0" stroke="#858585" stroke-width="0.9"/>
<text x="33.70" y="382.70" font-size="8.4" stroke="#2a2a2a" stroke-width="0.08" text-anchor="middle">2</text>
<line x1="60.51" y1="371.5" x2="60.51" y2="368.5" stroke="#858585" stroke-width="0.9"/>
<line x1="60.51" y1="275" x2="60.51" y2="278.0" stroke="#858585" stroke-width="0.9"/>
<text x="60.51" y="382.70" font-size="8.4" stroke="#2a2a2a" stroke-width="0.08" text-anchor="middle">4</text>
<line x1="87.32" y1="371.5" x2="87.32" y2="368.5" stroke="#858585" stroke-width="0.9"/>
<line x1="87.32" y1="275" x2="87.32" y2="278.0" stroke="#858585" stroke-width="0.9"/>
<text x="87.32" y="382.70" font-size="8.4" stroke="#2a2a2a" stroke-width="0.08" text-anchor="middle">6</text>
<line x1="114.13" y1="371.5" x2="114.13" y2="368.5" stroke="#858585" stroke-width="0.9"/>
<line x1="114.13" y1="275" x2="114.13" y2="278.0" stroke="#858585" stroke-width="0.9"/>
<text x="114.13" y="382.70" font-size="8.4" stroke="#2a2a2a" stroke-width="0.08" text-anchor="middle">8</text>
<line x1="140.94" y1="371.5" x2="140.94" y2="368.5" stroke="#858585" stroke-width="0.9"/>
<line x1="140.94" y1="275" x2="140.94" y2="278.0" stroke="#858585" stroke-width="0.9"/>
<text x="140.94" y="382.70" font-size="8.4" stroke="#2a2a2a" stroke-width="0.08" text-anchor="middle">10</text>
<line x1="167.75" y1="371.5" x2="167.75" y2="368.5" stroke="#858585" stroke-width="0.9"/>
<line x1="167.75" y1="275" x2="167.75" y2="278.0" stroke="#858585" stroke-width="0.9"/>
<text x="167.75" y="382.70" font-size="8.4" stroke="#2a2a2a" stroke-width="0.08" text-anchor="middle">12</text>
<line x1="194.56" y1="371.5" x2="194.56" y2="368.5" stroke="#858585" stroke-width="0.9"/>
<line x1="194.56" y1="275" x2="194.56" y2="278.0" stroke="#858585" stroke-width="0.9"/>
<text x="194.56" y="382.70" font-size="8.4" stroke="#2a2a2a" stroke-width="0.08" text-anchor="middle">14</text>
<line x1="221.37" y1="371.5" x2="221.37" y2="368.5" stroke="#858585" stroke-width="0.9"/>
<line x1="221.37" y1="275" x2="221.37" y2="278.0" stroke="#858585" stroke-width="0.9"/>
<text x="221.37" y="382.70" font-size="8.4" stroke="#2a2a2a" stroke-width="0.08" text-anchor="middle">16</text>
<line x1="248.17" y1="371.5" x2="248.17" y2="368.5" stroke="#858585" stroke-width="0.9"/>
<line x1="248.17" y1="275" x2="248.17" y2="278.0" stroke="#858585" stroke-width="0.9"/>
<text x="248.17" y="382.70" font-size="8.4" stroke="#2a2a2a" stroke-width="0.08" text-anchor="middle">18</text>
<line x1="274.98" y1="371.5" x2="274.98" y2="368.5" stroke="#858585" stroke-width="0.9"/>
<line x1="274.98" y1="275" x2="274.98" y2="278.0" stroke="#858585" stroke-width="0.9"/>
<text x="274.98" y="382.70" font-size="8.4" stroke="#2a2a2a" stroke-width="0.08" text-anchor="middle">20</text>
<line x1="301.79" y1="371.5" x2="301.79" y2="368.5" stroke="#858585" stroke-width="0.9"/>
<line x1="301.79" y1="275" x2="301.79" y2="278.0" stroke="#858585" stroke-width="0.9"/>
<text x="301.79" y="382.70" font-size="8.4" stroke="#2a2a2a" stroke-width="0.08" text-anchor="middle">22</text>
<line x1="328.60" y1="371.5" x2="328.60" y2="368.5" stroke="#858585" stroke-width="0.9"/>
<line x1="328.60" y1="275" x2="328.60" y2="278.0" stroke="#858585" stroke-width="0.9"/>
<text x="328.60" y="382.70" font-size="8.4" stroke="#2a2a2a" stroke-width="0.08" text-anchor="middle">24</text>
<line x1="20.3" y1="354.21" x2="23.3" y2="354.21" stroke="#858585" stroke-width="0.9"/>
<line x1="328.6" y1="354.21" x2="325.6" y2="354.21" stroke="#858585" stroke-width="0.9"/>
<text x="17.10" y="357.71" font-size="8.4" stroke="#2a2a2a" stroke-width="0.08" text-anchor="end">1</text>
<line x1="20.3" y1="336.91" x2="23.3" y2="336.91" stroke="#858585" stroke-width="0.9"/>
<line x1="328.6" y1="336.91" x2="325.6" y2="336.91" stroke="#858585" stroke-width="0.9"/>
<text x="17.10" y="340.41" font-size="8.4" stroke="#2a2a2a" stroke-width="0.08" text-anchor="end">2</text>
<line x1="20.3" y1="319.62" x2="23.3" y2="319.62" stroke="#858585" stroke-width="0.9"/>
<line x1="328.6" y1="319.62" x2="325.6" y2="319.62" stroke="#858585" stroke-width="0.9"/>
<text x="17.10" y="323.12" font-size="8.4" stroke="#2a2a2a" stroke-width="0.08" text-anchor="end">3</text>
<line x1="20.3" y1="302.32" x2="23.3" y2="302.32" stroke="#858585" stroke-width="0.9"/>
<line x1="328.6" y1="302.32" x2="325.6" y2="302.32" stroke="#858585" stroke-width="0.9"/>
<text x="17.10" y="305.82" font-size="8.4" stroke="#2a2a2a" stroke-width="0.08" text-anchor="end">4</text>
<line x1="20.3" y1="285.03" x2="23.3" y2="285.03" stroke="#858585" stroke-width="0.9"/>
<line x1="328.6" y1="285.03" x2="325.6" y2="285.03" stroke="#858585" stroke-width="0.9"/>
<text x="17.10" y="288.53" font-size="8.4" stroke="#2a2a2a" stroke-width="0.08" text-anchor="end">5</text>
<svg x="19.7" y="274.4" width="309.5" height="97.7" overflow="hidden" viewBox="19.7 274.4 309.5 97.7">
<polyline points="20.3,333.3 60.5,333.3 73.9,348.0 87.3,347.3 100.7,336.9 114.1,295.4 127.5,323.1 140.9,324.8 154.3,326.5 167.7,333.5 181.2,335.2 194.6,337.8 208.0,348.0 221.4,371.2 234.8,359.4 248.2,359.6 328.6,359.6" fill="none" stroke="#A2142F" stroke-width="0.8" stroke-opacity="0.85"/>
<polyline points="20.3,348.0 60.5,348.0 73.9,350.7 87.3,345.6 100.7,371.5 114.1,345.6 127.5,333.5 140.9,309.2 154.3,321.0 167.7,321.0 181.2,321.3 194.6,336.9 208.0,371.5 221.4,350.7 234.8,348.0 248.2,371.5" fill="none" stroke="#7E2F8E" stroke-width="0.8" stroke-opacity="0.85"/>
<polyline points="20.3,351.6 33.7,371.5 47.1,348.7 60.5,361.1 73.9,361.1 87.3,354.2 100.7,345.6 114.1,304.1 127.5,275.7 140.9,275.7 154.3,274.7 167.7,311.0 181.2,323.1 194.6,335.2 208.0,338.6 221.4,348.0 234.8,348.0 248.2,348.0 261.6,340.4 275.0,340.4 288.4,353.2 328.6,353.2" fill="none" stroke="#D95319" stroke-width="0.8" stroke-opacity="0.85"/>
<polyline points="20.3,352.6 33.7,352.6 41.7,358.2 73.9,358.2 87.3,350.7 100.7,328.3 114.1,304.9 127.5,319.6 140.9,321.3 154.3,323.1 167.7,315.3 181.2,333.5 194.6,345.6 208.0,336.9 221.4,324.8 234.8,337.8 248.2,345.6 261.6,350.7 275.0,357.1 328.6,357.1" fill="none" stroke="#EDB120" stroke-width="0.8" stroke-opacity="0.85"/>
<polyline points="20.3,358.7 73.9,358.7 87.3,349.0 100.7,336.9 114.1,311.5 127.5,323.1 140.9,357.7 154.3,347.3 167.7,343.8 181.2,348.0 194.6,338.6 208.0,348.0 221.4,349.0 234.8,348.0 248.2,345.6 261.6,336.4 275.0,348.0 328.6,347.3" fill="none" stroke="#4DBEEE" stroke-width="0.8" stroke-opacity="0.85"/>
<polyline points="20.3,359.6 73.9,359.6 87.3,350.7 100.7,345.6 114.1,328.3 127.5,296.3 140.9,314.4 154.3,323.1 167.7,336.9 181.2,345.6 194.6,347.3 208.0,348.0 221.4,348.0 234.8,347.6 248.2,348.0 328.6,348.0" fill="none" stroke="#0072BD" stroke-width="0.8" stroke-opacity="0.85"/>
<polyline points="20.3,360.1 73.9,360.1 87.3,333.5 100.7,311.0 114.1,323.1 127.5,321.3 140.9,298.5 154.3,298.5 167.7,323.1 181.2,324.8 194.6,324.8 208.0,324.8 221.4,337.8 234.8,334.3 248.2,335.2 261.6,348.0 315.2,348.0 328.6,349.0" fill="none" stroke="#77AC30" stroke-width="0.8" stroke-opacity="0.85"/>
<polyline points="20.3,371.5 60.5,371.5 73.9,361.1 87.3,350.7 100.7,343.8 114.1,324.8 127.5,328.3 140.9,333.5 154.3,328.3 167.7,347.3 181.2,336.9 194.6,348.0 208.0,347.3 221.4,349.0 234.8,357.7 248.2,359.4 261.6,371.5" fill="none" stroke="#0072BD" stroke-width="0.8" stroke-opacity="0.85"/>
<polyline points="20.3,371.5 73.9,371.5 87.3,321.3 100.7,324.8 114.1,331.7 127.5,330.0 140.9,321.3 154.3,333.5 167.7,335.2 181.2,338.6 194.6,345.6 208.0,348.0 221.4,348.0 234.8,357.7 248.2,359.4 261.6,371.2" fill="none" stroke="#0072BD" stroke-width="0.8" stroke-opacity="0.85"/>
<polyline points="20.3,349.0 73.9,349.0 87.3,345.6 100.7,336.9 114.1,324.8 127.5,331.7 140.9,324.8 154.3,331.7 167.7,333.5 181.2,336.9 194.6,336.0 208.0,348.0 221.4,359.4 234.8,359.6 248.2,359.4 261.6,359.4 275.0,348.0 301.8,348.0 315.2,359.4 328.6,359.4" fill="none" stroke="#A2142F" stroke-width="0.8" stroke-opacity="0.85"/>
<polyline points="20.3,348.5 73.9,349.4 87.3,349.0 100.7,340.4 114.1,331.7 127.5,333.5 140.9,323.1 154.3,321.3 167.7,330.0 181.2,331.7 194.6,336.9 208.0,340.4 221.4,349.0 234.8,349.0 248.2,359.4 261.6,359.4 275.0,359.6" fill="none" stroke="#7E2F8E" stroke-width="0.8" stroke-opacity="0.85"/>
<polyline points="20.3,349.9 73.9,350.4 87.3,340.4 100.7,333.5 114.1,336.9 127.5,326.5 140.9,331.7 154.3,336.9 167.7,338.6 181.2,342.1 194.6,352.5 208.0,352.5 221.4,354.2 234.8,345.6 248.2,349.0 261.6,354.2 275.0,371.5 328.6,371.5" fill="none" stroke="#EDB120" stroke-width="0.8" stroke-opacity="0.85"/>
<polyline points="73.9,361.1 87.3,354.2 100.7,345.6 114.1,342.1 127.5,336.9 140.9,335.2 154.3,333.5 167.7,330.0 181.2,333.5 194.6,335.2 208.0,350.7 221.4,371.5 328.6,371.5" fill="none" stroke="#D95319" stroke-width="0.8" stroke-opacity="0.85"/>
<polyline points="73.9,360.3 87.3,347.3 100.7,319.6 114.1,321.3 127.5,328.3 140.9,326.5 154.3,330.0 167.7,336.9 181.2,343.8 194.6,348.0 208.0,348.0 221.4,349.0 234.8,354.2 248.2,354.2" fill="none" stroke="#77AC30" stroke-width="0.8" stroke-opacity="0.85"/>
<polyline points="87.3,349.0 100.7,328.3 114.1,326.5 127.5,311.0 140.9,324.8 154.3,328.3 167.7,343.8 181.2,347.3 194.6,349.0 208.0,349.0 221.4,336.9 234.8,348.0 248.2,349.0 261.6,354.2 275.0,359.4" fill="none" stroke="#4DBEEE" stroke-width="0.8" stroke-opacity="0.85"/>
<polyline points="87.3,349.0 100.7,340.4 114.1,323.1 127.5,336.9 140.9,345.6 154.3,347.3 167.7,348.0 181.2,348.0 194.6,336.9 208.0,347.3 221.4,348.0 234.8,354.2 248.2,371.2" fill="none" stroke="#A2142F" stroke-width="0.8" stroke-opacity="0.85"/>
<polyline points="100.7,371.5 114.1,350.7 127.5,328.3 140.9,319.6 154.3,326.5 167.7,336.9 181.2,343.8 194.6,345.6 208.0,345.6 221.4,345.6 234.8,348.0 248.2,366.3 261.6,371.5" fill="none" stroke="#7E2F8E" stroke-width="0.8" stroke-opacity="0.85"/>
<polyline points="181.2,345.6 194.6,336.9 208.0,348.0 221.4,371.5 234.8,359.4 248.2,348.0 261.6,359.4 275.0,371.5" fill="none" stroke="#7E2F8E" stroke-width="0.8" stroke-opacity="0.85"/>
<polyline points="167.7,336.9 181.2,348.0 194.6,350.7 208.0,359.4 221.4,359.4 234.8,359.6 248.2,359.6 261.6,359.6 275.0,371.5" fill="none" stroke="#A2142F" stroke-width="0.8" stroke-opacity="0.85"/>
</svg>
<text x="174.45" y="394.60" font-size="9" text-anchor="middle">time</text>
<text transform="translate(7.40,323.25) rotate(-90)" font-size="9" text-anchor="middle">load</text>
<text x="173.65" y="272.10" font-size="9.35" text-anchor="middle" fill="#000" stroke="#000" stroke-width="0.12">The fifth scene clustering of L-ISODATA method</text>
<rect x="371.4" y="275" width="308.5" height="96.5" fill="none" stroke="#858585" stroke-width="1"/>
<line x1="384.81" y1="371.5" x2="384.81" y2="368.5" stroke="#858585" stroke-width="0.9"/>
<line x1="384.81" y1="275" x2="384.81" y2="278.0" stroke="#858585" stroke-width="0.9"/>
<text x="384.81" y="382.70" font-size="8.4" stroke="#2a2a2a" stroke-width="0.08" text-anchor="middle">2</text>
<line x1="411.64" y1="371.5" x2="411.64" y2="368.5" stroke="#858585" stroke-width="0.9"/>
<line x1="411.64" y1="275" x2="411.64" y2="278.0" stroke="#858585" stroke-width="0.9"/>
<text x="411.64" y="382.70" font-size="8.4" stroke="#2a2a2a" stroke-width="0.08" text-anchor="middle">4</text>
<line x1="438.47" y1="371.5" x2="438.47" y2="368.5" stroke="#858585" stroke-width="0.9"/>
<line x1="438.47" y1="275" x2="438.47" y2="278.0" stroke="#858585" stroke-width="0.9"/>
<text x="438.47" y="382.70" font-size="8.4" stroke="#2a2a2a" stroke-width="0.08" text-anchor="middle">6</text>
<line x1="465.29" y1="371.5" x2="465.29" y2="368.5" stroke="#858585" stroke-width="0.9"/>
<line x1="465.29" y1="275" x2="465.29" y2="278.0" stroke="#858585" stroke-width="0.9"/>
<text x="465.29" y="382.70" font-size="8.4" stroke="#2a2a2a" stroke-width="0.08" text-anchor="middle">8</text>
<line x1="492.12" y1="371.5" x2="492.12" y2="368.5" stroke="#858585" stroke-width="0.9"/>
<line x1="492.12" y1="275" x2="492.12" y2="278.0" stroke="#858585" stroke-width="0.9"/>
<text x="492.12" y="382.70" font-size="8.4" stroke="#2a2a2a" stroke-width="0.08" text-anchor="middle">10</text>
<line x1="518.94" y1="371.5" x2="518.94" y2="368.5" stroke="#858585" stroke-width="0.9"/>
<line x1="518.94" y1="275" x2="518.94" y2="278.0" stroke="#858585" stroke-width="0.9"/>
<text x="518.94" y="382.70" font-size="8.4" stroke="#2a2a2a" stroke-width="0.08" text-anchor="middle">12</text>
<line x1="545.77" y1="371.5" x2="545.77" y2="368.5" stroke="#858585" stroke-width="0.9"/>
<line x1="545.77" y1="275" x2="545.77" y2="278.0" stroke="#858585" stroke-width="0.9"/>
<text x="545.77" y="382.70" font-size="8.4" stroke="#2a2a2a" stroke-width="0.08" text-anchor="middle">14</text>
<line x1="572.60" y1="371.5" x2="572.60" y2="368.5" stroke="#858585" stroke-width="0.9"/>
<line x1="572.60" y1="275" x2="572.60" y2="278.0" stroke="#858585" stroke-width="0.9"/>
<text x="572.60" y="382.70" font-size="8.4" stroke="#2a2a2a" stroke-width="0.08" text-anchor="middle">16</text>
<line x1="599.42" y1="371.5" x2="599.42" y2="368.5" stroke="#858585" stroke-width="0.9"/>
<line x1="599.42" y1="275" x2="599.42" y2="278.0" stroke="#858585" stroke-width="0.9"/>
<text x="599.42" y="382.70" font-size="8.4" stroke="#2a2a2a" stroke-width="0.08" text-anchor="middle">18</text>
<line x1="626.25" y1="371.5" x2="626.25" y2="368.5" stroke="#858585" stroke-width="0.9"/>
<line x1="626.25" y1="275" x2="626.25" y2="278.0" stroke="#858585" stroke-width="0.9"/>
<text x="626.25" y="382.70" font-size="8.4" stroke="#2a2a2a" stroke-width="0.08" text-anchor="middle">20</text>
<line x1="653.07" y1="371.5" x2="653.07" y2="368.5" stroke="#858585" stroke-width="0.9"/>
<line x1="653.07" y1="275" x2="653.07" y2="278.0" stroke="#858585" stroke-width="0.9"/>
<text x="653.07" y="382.70" font-size="8.4" stroke="#2a2a2a" stroke-width="0.08" text-anchor="middle">22</text>
<line x1="679.90" y1="371.5" x2="679.90" y2="368.5" stroke="#858585" stroke-width="0.9"/>
<line x1="679.90" y1="275" x2="679.90" y2="278.0" stroke="#858585" stroke-width="0.9"/>
<text x="679.90" y="382.70" font-size="8.4" stroke="#2a2a2a" stroke-width="0.08" text-anchor="middle">24</text>
<line x1="371.4" y1="348.79" x2="374.4" y2="348.79" stroke="#858585" stroke-width="0.9"/>
<line x1="679.9" y1="348.79" x2="676.9" y2="348.79" stroke="#858585" stroke-width="0.9"/>
<text x="368.20" y="352.29" font-size="8.4" stroke="#2a2a2a" stroke-width="0.08" text-anchor="end">1</text>
<line x1="371.4" y1="326.09" x2="374.4" y2="326.09" stroke="#858585" stroke-width="0.9"/>
<line x1="679.9" y1="326.09" x2="676.9" y2="326.09" stroke="#858585" stroke-width="0.9"/>
<text x="368.20" y="329.59" font-size="8.4" stroke="#2a2a2a" stroke-width="0.08" text-anchor="end">2</text>
<line x1="371.4" y1="303.38" x2="374.4" y2="303.38" stroke="#858585" stroke-width="0.9"/>
<line x1="679.9" y1="303.38" x2="676.9" y2="303.38" stroke="#858585" stroke-width="0.9"/>
<text x="368.20" y="306.88" font-size="8.4" stroke="#2a2a2a" stroke-width="0.08" text-anchor="end">3</text>
<line x1="371.4" y1="280.68" x2="374.4" y2="280.68" stroke="#858585" stroke-width="0.9"/>
<line x1="679.9" y1="280.68" x2="676.9" y2="280.68" stroke="#858585" stroke-width="0.9"/>
<text x="368.20" y="284.18" font-size="8.4" stroke="#2a2a2a" stroke-width="0.08" text-anchor="end">4</text>
<svg x="370.79999999999995" y="274.4" width="309.7" height="97.7" overflow="hidden" viewBox="370.79999999999995 274.4 309.7 97.7">
<polyline points="371.4,322.1 398.2,322.1 411.6,319.5 425.1,319.5 438.5,320.0 451.9,354.4 465.3,339.0 478.7,322.1 492.1,323.2 505.5,325.4 518.9,324.8 532.4,327.4 545.8,327.4 559.2,327.4 572.6,327.6 586.0,324.8 599.4,324.8 612.8,324.8 626.2,340.1 639.7,340.1 679.9,341.4" fill="none" stroke="#0072BD" stroke-width="0.8" stroke-opacity="0.85"/>
<polyline points="371.4,344.1 425.1,344.1 438.5,296.5 478.7,296.5 492.1,309.2 505.5,340.1 518.9,327.6 532.4,314.5 545.8,327.6 559.2,340.8 572.6,340.8 586.0,340.1 599.4,325.4 612.8,309.2 626.2,340.1 639.7,344.1 679.9,343.0" fill="none" stroke="#0072BD" stroke-width="0.8" stroke-opacity="0.85"/>
<polyline points="371.4,341.4 425.1,341.4 438.5,318.9 451.9,274.5 465.3,291.2 478.7,291.2 492.1,323.2 505.5,309.2 518.9,309.2 532.4,296.9 545.8,322.1 559.2,321.1 572.6,305.7 586.0,287.3 599.4,341.4 612.8,310.1 626.2,323.5 666.5,323.5 679.9,340.1" fill="none" stroke="#D95319" stroke-width="0.8" stroke-opacity="0.85"/>
<polyline points="371.4,348.0 384.8,348.0 398.2,332.0 465.3,332.0 478.7,322.1 492.1,322.1 505.5,306.8 518.9,306.8 532.4,321.1 545.8,321.1 559.2,320.0 572.6,316.7 586.0,329.8 599.4,336.4 612.8,323.2 626.2,323.2 639.7,323.5 653.1,326.1 666.5,323.5 679.9,341.4" fill="none" stroke="#D95319" stroke-width="0.8" stroke-opacity="0.85"/>
<polyline points="371.4,356.6 438.5,356.6 451.9,322.1 492.1,322.1 505.5,338.6 532.4,338.6 545.8,324.8 559.2,355.7 572.6,340.8 586.0,343.0 599.4,323.2 612.8,309.2 626.2,332.0 639.7,356.6 679.9,356.6" fill="none" stroke="#EDB120" stroke-width="0.8" stroke-opacity="0.85"/>
<polyline points="371.4,371.5 411.6,371.5 425.1,354.4 438.5,354.4 451.9,323.2 465.3,340.8 478.7,323.2 492.1,322.1 505.5,338.6 518.9,339.7 532.4,340.1 545.8,338.6 559.2,338.6 572.6,338.6 586.0,340.1 599.4,323.2 612.8,323.2 626.2,337.7 639.7,337.7 653.1,320.8 679.9,320.8" fill="none" stroke="#4DBEEE" stroke-width="0.8" stroke-opacity="0.85"/>
<polyline points="371.4,371.5 425.1,371.5 438.5,327.6 451.9,302.8 465.3,302.8 478.7,340.1 492.1,309.2 505.5,371.5 518.9,349.6 532.4,349.6 545.8,317.1 559.2,317.1 572.6,302.8 586.0,302.8 599.4,300.2 612.8,313.2 626.2,343.0 639.7,344.1 679.9,344.1" fill="none" stroke="#7E2F8E" stroke-width="0.8" stroke-opacity="0.85"/>
<polyline points="371.4,371.5 438.5,371.5 451.9,353.1 465.3,353.5 559.2,354.0 572.6,353.1 586.0,340.8 599.4,307.9 612.8,305.5 626.2,319.5 653.1,319.5 666.5,338.6 679.9,353.1" fill="none" stroke="#77AC30" stroke-width="0.8" stroke-opacity="0.85"/>
<polyline points="371.4,371.5 465.3,371.5 478.7,353.1 505.5,353.1 518.9,359.7 532.4,345.2 545.8,340.1 559.2,327.6 572.6,326.1 586.0,341.4 599.4,341.4 612.8,287.3 626.2,278.3 639.7,277.6 653.1,277.0 666.5,299.1 679.9,316.7" fill="none" stroke="#A2142F" stroke-width="0.8" stroke-opacity="0.85"/>
</svg>
<text x="525.65" y="394.60" font-size="9" text-anchor="middle">time</text>
<text transform="translate(359.20,323.25) rotate(-90)" font-size="9" text-anchor="middle">load</text>
<text x="524.85" y="272.10" font-size="9.35" text-anchor="middle" fill="#000" stroke="#000" stroke-width="0.12">The sixth scene clustering of L-ISODATA method</text>
</svg></body></html>
